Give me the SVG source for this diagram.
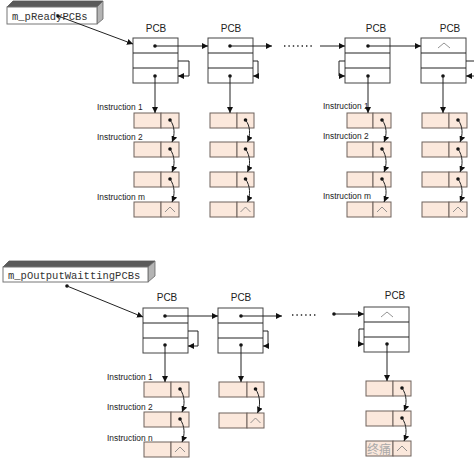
<svg xmlns="http://www.w3.org/2000/svg" width="474" height="460" viewBox="0 0 474 460">
<style>
.pcb{fill:#fff;stroke:#444;stroke-width:1}
.ins{fill:#fbe8dc;stroke:#6e625c;stroke-width:1}
.ln{fill:none;stroke:#222;stroke-width:1}
.car{fill:none;stroke:#777;stroke-width:0.8}
.lbl{font-family:"Liberation Sans",Arial,sans-serif;font-size:10px;fill:#222;text-anchor:middle}
.ilbl{font-family:"Liberation Sans",Arial,sans-serif;font-size:8.4px;fill:#222}
.mono{font-family:"Liberation Mono","Courier New",monospace;font-size:10.5px;fill:#333}
.dot{fill:#111}
.top{fill:#5a5a5a;stroke:#555;stroke-width:0.8}
.side{fill:#b4b4b4;stroke:#666;stroke-width:0.8}
.front{fill:#fff;stroke:#777;stroke-width:1}
</style>
<defs>
<marker id="ah" viewBox="0 0 10 10" refX="10" refY="5" markerWidth="6" markerHeight="6" orient="auto" markerUnits="userSpaceOnUse">
<path d="M0,0 L10,5 L0,10 z" fill="#111"/>
</marker>
</defs>

<!-- head pointer boxes -->
<g id="readyHead">
<polygon class="top" points="7,7 13,1 103,1 97,7"/>
<polygon class="side" points="97,7 103,1 103,19 97,24"/>
<rect class="front" x="7" y="7" width="90" height="17"/>
<text class="mono" x="12" y="20">m_pReadyPCBs</text>
</g>
<g id="outputHead">
<polygon class="top" points="3,267 9,261 155,261 148,267"/>
<polygon class="side" points="148,267 155,261 155,276 148,282"/>
<rect class="front" x="3" y="267" width="145" height="15"/>
<text class="mono" x="8" y="279">m_pOutputWaittingPCBs</text>
</g>

<!-- top PCBs -->
<g id="pcbA1">
<text class="lbl" x="156" y="32">PCB</text>
<rect class="pcb" x="133" y="38" width="45" height="45"/>
<line class="ln" x1="133" y1="53" x2="178" y2="53"/><line class="ln" x1="133" y1="68" x2="178" y2="68"/>
</g>
<g id="pcbA2">
<text class="lbl" x="231" y="32">PCB</text>
<rect class="pcb" x="208" y="38" width="45" height="45"/>
<line class="ln" x1="208" y1="53" x2="253" y2="53"/><line class="ln" x1="208" y1="68" x2="253" y2="68"/>
</g>
<g id="pcbA3">
<text class="lbl" x="376" y="32">PCB</text>
<rect class="pcb" x="345" y="38" width="45" height="45"/>
<line class="ln" x1="345" y1="53" x2="390" y2="53"/><line class="ln" x1="345" y1="68" x2="390" y2="68"/>
</g>
<g id="pcbA4">
<text class="lbl" x="450" y="32">PCB</text>
<rect class="pcb" x="421" y="38" width="45" height="45"/>
<line class="ln" x1="421" y1="53" x2="466" y2="53"/><line class="ln" x1="421" y1="68" x2="466" y2="68"/>
<polyline class="car" points="438,48 444,43 450,48"/>
</g>

<!-- bottom PCBs -->
<g id="pcbB1">
<text class="lbl" x="167" y="301">PCB</text>
<rect class="pcb" x="143" y="308" width="45" height="45"/>
<line class="ln" x1="143" y1="323" x2="188" y2="323"/><line class="ln" x1="143" y1="338" x2="188" y2="338"/>
</g>
<g id="pcbB2">
<text class="lbl" x="241" y="301">PCB</text>
<rect class="pcb" x="218" y="308" width="45" height="45"/>
<line class="ln" x1="218" y1="323" x2="263" y2="323"/><line class="ln" x1="218" y1="338" x2="263" y2="338"/>
</g>
<g id="pcbB3">
<text class="lbl" x="395" y="299">PCB</text>
<rect class="pcb" x="364" y="307" width="45" height="45"/>
<line class="ln" x1="364" y1="322" x2="409" y2="322"/><line class="ln" x1="364" y1="337" x2="409" y2="337"/>
<polyline class="car" points="381,317 387,312 393,317"/>
</g>

<!-- instruction labels -->
<g id="labels">
<text class="ilbl" x="97" y="110">Instruction 1</text>
<text class="ilbl" x="97" y="140">Instruction 2</text>
<text class="ilbl" x="97" y="200">Instruction m</text>
<text class="ilbl" x="323" y="109">Instruction 1</text>
<text class="ilbl" x="323" y="139">Instruction 2</text>
<text class="ilbl" x="323" y="199">Instruction m</text>
<text class="ilbl" x="107" y="380">Instruction 1</text>
<text class="ilbl" x="107" y="410">Instruction 2</text>
<text class="ilbl" x="107" y="441">Instruction n</text>
</g>

<!-- instruction nodes, top -->
<g id="insA1">
<rect class="ins" x="134" y="113" width="27" height="15"/><rect class="ins" x="161" y="113" width="18" height="15"/>
<rect class="ins" x="134" y="142" width="27" height="15"/><rect class="ins" x="161" y="142" width="18" height="15"/>
<rect class="ins" x="134" y="172" width="27" height="15"/><rect class="ins" x="161" y="172" width="18" height="15"/>
<rect class="ins" x="134" y="202" width="27" height="15"/><rect class="ins" x="161" y="202" width="18" height="15"/>
<polyline class="car" points="165,212 170,207 175,212"/>
</g>
<g id="insA2">
<rect class="ins" x="210" y="113" width="27" height="15"/><rect class="ins" x="237" y="113" width="17" height="15"/>
<rect class="ins" x="210" y="142" width="27" height="15"/><rect class="ins" x="237" y="142" width="17" height="15"/>
<rect class="ins" x="210" y="172" width="27" height="15"/><rect class="ins" x="237" y="172" width="17" height="15"/>
<rect class="ins" x="210" y="202" width="27" height="15"/><rect class="ins" x="237" y="202" width="17" height="15"/>
<polyline class="car" points="240.5,212 245.5,207 250.5,212"/>
</g>
<g id="insA3">
<rect class="ins" x="347" y="113" width="26" height="15"/><rect class="ins" x="373" y="113" width="18" height="15"/>
<rect class="ins" x="347" y="142" width="26" height="15"/><rect class="ins" x="373" y="142" width="18" height="15"/>
<rect class="ins" x="347" y="172" width="26" height="15"/><rect class="ins" x="373" y="172" width="18" height="15"/>
<rect class="ins" x="347" y="202" width="26" height="15"/><rect class="ins" x="373" y="202" width="18" height="15"/>
<polyline class="car" points="377,212 382,207 387,212"/>
</g>
<g id="insA4">
<rect class="ins" x="422" y="113" width="27" height="15"/><rect class="ins" x="449" y="113" width="18" height="15"/>
<rect class="ins" x="422" y="142" width="27" height="15"/><rect class="ins" x="449" y="142" width="18" height="15"/>
<rect class="ins" x="422" y="172" width="27" height="15"/><rect class="ins" x="449" y="172" width="18" height="15"/>
<rect class="ins" x="422" y="202" width="27" height="15"/><rect class="ins" x="449" y="202" width="18" height="15"/>
<polyline class="car" points="453,212 458,207 463,212"/>
</g>

<!-- instruction nodes, bottom -->
<g id="insB1">
<rect class="ins" x="144" y="382" width="27" height="15"/><rect class="ins" x="171" y="382" width="18" height="15"/>
<rect class="ins" x="144" y="412" width="27" height="15"/><rect class="ins" x="171" y="412" width="18" height="15"/>
<rect class="ins" x="144" y="442" width="27" height="15"/><rect class="ins" x="171" y="442" width="18" height="15"/>
<polyline class="car" points="175,452 180,447 185,452"/>
</g>
<g id="insB2">
<rect class="ins" x="219" y="382" width="28" height="15"/><rect class="ins" x="247" y="382" width="17" height="15"/>
<rect class="ins" x="219" y="413" width="28" height="15"/><rect class="ins" x="247" y="413" width="17" height="15"/>
<polyline class="car" points="250.5,423 255.5,418 260.5,423"/>
</g>
<g id="insB3">
<rect class="ins" x="366" y="381" width="27" height="15"/><rect class="ins" x="393" y="381" width="18" height="15"/>
<rect class="ins" x="366" y="411" width="27" height="15"/><rect class="ins" x="393" y="411" width="18" height="15"/>
<rect class="ins" x="366" y="441" width="27" height="15"/><rect class="ins" x="393" y="441" width="18" height="15"/>
<polyline class="car" points="397,451 402,446 407,451"/>
<text x="367" y="454" style="font-family:'Noto Sans CJK SC',sans-serif;font-size:12px;fill:#aaa">终痛</text>
</g>

<!-- connectors -->
<g id="connectors">
<!-- head pointers -->
<circle class="dot" cx="58" cy="16" r="1.8"/>
<line class="ln" x1="58" y1="16" x2="133" y2="44" marker-end="url(#ah)"/>
<circle class="dot" cx="67" cy="286" r="1.8"/>
<line class="ln" x1="67" y1="286" x2="143" y2="317" marker-end="url(#ah)"/>

<!-- top next links -->
<circle class="dot" cx="155" cy="46" r="1.8"/>
<line class="ln" x1="155" y1="46" x2="208" y2="46" marker-end="url(#ah)"/>
<circle class="dot" cx="230" cy="46" r="1.8"/>
<line class="ln" x1="230" y1="46" x2="272" y2="46" marker-end="url(#ah)"/>
<line x1="284" y1="46" x2="313" y2="46" stroke="#222" stroke-width="1.6" stroke-dasharray="1.4,3"/>
<line class="ln" x1="320" y1="46" x2="345" y2="46" marker-end="url(#ah)"/>
<circle class="dot" cx="368" cy="46" r="1.8"/>
<line class="ln" x1="368" y1="46" x2="421" y2="46" marker-end="url(#ah)"/>

<!-- top self loops -->
<polyline class="ln" points="178,61 189,61 189,76 178,76" marker-end="url(#ah)"/>
<polyline class="ln" points="253,61 258,61 258,76 253,76" marker-end="url(#ah)"/>
<polyline class="ln" points="345,61 339,61 339,76 345,76" marker-end="url(#ah)"/>
<polyline class="ln" points="466,61 474,61"/>
<line class="ln" x1="474" y1="76" x2="466" y2="76" marker-end="url(#ah)"/>

<!-- top down links -->
<circle class="dot" cx="155" cy="76" r="1.8"/>
<line class="ln" x1="155" y1="76" x2="155" y2="113" marker-end="url(#ah)"/>
<circle class="dot" cx="230" cy="76" r="1.8"/>
<line class="ln" x1="230" y1="76" x2="230" y2="113" marker-end="url(#ah)"/>
<circle class="dot" cx="368" cy="76" r="1.8"/>
<line class="ln" x1="368" y1="76" x2="368" y2="113" marker-end="url(#ah)"/>
<circle class="dot" cx="443" cy="76" r="1.8"/>
<line class="ln" x1="443" y1="76" x2="443" y2="113" marker-end="url(#ah)"/>

<!-- top instruction chains -->
<g>
<circle class="dot" cx="170" cy="120" r="1.8"/><path class="ln" d="M170,120 C175,126 175,135 172,142" marker-end="url(#ah)"/>
<circle class="dot" cx="170" cy="149" r="1.8"/><path class="ln" d="M170,149 C175,156 175,165 172,172" marker-end="url(#ah)"/>
<circle class="dot" cx="170" cy="179" r="1.8"/><path class="ln" d="M170,179 C175,186 175,195 172,202" marker-end="url(#ah)"/>
<circle class="dot" cx="245.5" cy="120" r="1.8"/><path class="ln" d="M245.5,120 C250.5,126 250.5,135 247.5,142" marker-end="url(#ah)"/>
<circle class="dot" cx="245.5" cy="149" r="1.8"/><path class="ln" d="M245.5,149 C250.5,156 250.5,165 247.5,172" marker-end="url(#ah)"/>
<circle class="dot" cx="245.5" cy="179" r="1.8"/><path class="ln" d="M245.5,179 C250.5,186 250.5,195 247.5,202" marker-end="url(#ah)"/>
<circle class="dot" cx="382" cy="120" r="1.8"/><path class="ln" d="M382,120 C387,126 387,135 384,142" marker-end="url(#ah)"/>
<circle class="dot" cx="382" cy="149" r="1.8"/><path class="ln" d="M382,149 C387,156 387,165 384,172" marker-end="url(#ah)"/>
<circle class="dot" cx="382" cy="179" r="1.8"/><path class="ln" d="M382,179 C387,186 387,195 384,202" marker-end="url(#ah)"/>
<circle class="dot" cx="458" cy="120" r="1.8"/><path class="ln" d="M458,120 C463,126 463,135 460,142" marker-end="url(#ah)"/>
<circle class="dot" cx="458" cy="149" r="1.8"/><path class="ln" d="M458,149 C463,156 463,165 460,172" marker-end="url(#ah)"/>
<circle class="dot" cx="458" cy="179" r="1.8"/><path class="ln" d="M458,179 C463,186 463,195 460,202" marker-end="url(#ah)"/>
</g>

<!-- bottom next links -->
<circle class="dot" cx="165" cy="316" r="1.8"/>
<line class="ln" x1="165" y1="316" x2="218" y2="316" marker-end="url(#ah)"/>
<circle class="dot" cx="241" cy="316" r="1.8"/>
<line class="ln" x1="241" y1="316" x2="282" y2="316" marker-end="url(#ah)"/>
<line x1="292" y1="315" x2="318" y2="315" stroke="#222" stroke-width="1.6" stroke-dasharray="1.4,3"/>
<circle class="dot" cx="334" cy="314" r="1.8"/>
<line class="ln" x1="334" y1="314" x2="364" y2="314" marker-end="url(#ah)"/>

<!-- bottom self loops -->
<polyline class="ln" points="188,331 198,331 198,346 188,346" marker-end="url(#ah)"/>
<polyline class="ln" points="263,331 268,331 268,346 263,346" marker-end="url(#ah)"/>
<polyline class="ln" points="364,329 359,329 359,344 364,344" marker-end="url(#ah)"/>

<!-- bottom down links -->
<circle class="dot" cx="165" cy="345" r="1.8"/>
<line class="ln" x1="165" y1="345" x2="165" y2="382" marker-end="url(#ah)"/>
<circle class="dot" cx="241" cy="345" r="1.8"/>
<line class="ln" x1="241" y1="345" x2="241" y2="382" marker-end="url(#ah)"/>
<circle class="dot" cx="387" cy="344" r="1.8"/>
<line class="ln" x1="387" y1="344" x2="387" y2="381" marker-end="url(#ah)"/>

<!-- bottom instruction chains -->
<g>
<circle class="dot" cx="180" cy="389" r="1.8"/><path class="ln" d="M180,389 C185,396 185,405 182,412" marker-end="url(#ah)"/>
<circle class="dot" cx="180" cy="419" r="1.8"/><path class="ln" d="M180,419 C185,426 185,435 182,442" marker-end="url(#ah)"/>
<circle class="dot" cx="255.5" cy="389" r="1.8"/><path class="ln" d="M255.5,389 C260.5,396 260.5,406 257.5,413" marker-end="url(#ah)"/>
<circle class="dot" cx="402" cy="388" r="1.8"/><path class="ln" d="M402,388 C407,395 407,404 404,411" marker-end="url(#ah)"/>
<circle class="dot" cx="402" cy="418" r="1.8"/><path class="ln" d="M402,418 C407,425 407,434 404,441" marker-end="url(#ah)"/>
</g>
</g>
</svg>
